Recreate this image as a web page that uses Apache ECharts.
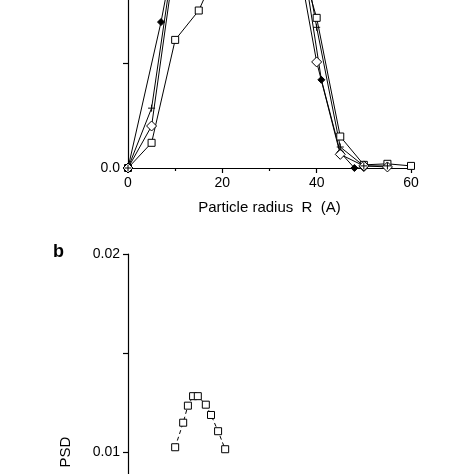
<!DOCTYPE html>
<html><head><meta charset="utf-8">
<script src="https://cdn.jsdelivr.net/npm/echarts@6/dist/echarts.min.js"></script>
<style>html,body{margin:0;background:#fff;overflow:hidden;height:474px}#chart{width:474px;height:819px;margin-top:-147px}</style>
</head><body><div id="chart"></div>
<script>
// panel a: particle size distributions (upper part of plot is cropped off)
const squaresA = [[0,0],[5,0.0024],[10,0.0122],[15,0.015],[20,0.02],[25,0.024],[30,0.025],[35,0.022],[40,0.0143],[45,0.003],[50,0.0003],[55,0.0004],[60,0.0002]];
const filledDiamA = [[0,0],[7,0.0139],[10,0.021],[20,0.027],[30,0.027],[37,0.02],[41,0.0084],[45,0.0015],[48,0],[50,0]];
const openDiamA = [[0,0],[5,0.004],[10,0.02],[20,0.027],[30,0.026],[36,0.02],[40,0.0101],[45,0.0013],[50,0.0002],[55,0.0001]];
const crossA = [[0,0],[5,0.0057],[10,0.021],[20,0.026],[30,0.026],[37,0.021],[40,0.0134],[45,0.002],[50,0.0002],[55,0.0002]];
// panel b
const squaresB = [[10.0,0.01024],[11.7,0.01148],[12.7,0.01234],[13.8,0.01282],[14.8,0.01282],[16.5,0.01239],[17.6,0.01187],[19.1,0.01105],[20.6,0.01014]];

const crossPath = 'path://M5 0 L5 10 M0 5 L10 5';
const ax = {color:'#000',fontFamily:'Liberation Sans, Arial',fontSize:14};
const lineS = {color:'#000',width:1.2};

function ser(data, symbol, fill, gi, dashed) {
  return {type:'line', data, xAxisIndex:gi, yAxisIndex:gi, symbol, symbolSize:7,
    lineStyle:{color:'#000',width:1,type:dashed?[4,3]:'solid'},
    itemStyle:{color:fill,borderColor:'#000',borderWidth:1}, animation:false, z:3};
}

const chart = echarts.init(document.getElementById('chart'));
chart.setOption({
  animation:false,
  grid:[{left:128,right:63,top:0,bottom:504},{left:128,right:63,top:401,bottom:0}],
  xAxis:[0,1].map(i => ({type:'value',gridIndex:i,min:0,max:60,interval:20,
    axisLine:{lineStyle:lineS},axisTick:{lineStyle:lineS,length:5},
    minorTick:{show:true,splitNumber:2,length:3,lineStyle:lineS},
    splitLine:{show:false},axisLabel:{...ax},
    name:i===0?'Particle radius  R  (A)':'',nameLocation:'middle',nameGap:32,
    nameTextStyle:{...ax,fontSize:15}})),
  yAxis:[
    {type:'value',gridIndex:0,min:0,max:0.03,interval:0.02,
     axisLine:{show:true,lineStyle:lineS},axisTick:{show:true,lineStyle:lineS,length:5},
     minorTick:{show:true,splitNumber:2,length:5,lineStyle:lineS},splitLine:{show:false},
     axisLabel:{...ax,formatter:v=>v===0?'0.0':''}},
    {type:'value',gridIndex:1,min:0,max:0.02,interval:0.01,
     axisLine:{show:true,lineStyle:lineS},axisTick:{show:true,lineStyle:lineS,length:5},
     minorTick:{show:true,splitNumber:2,length:5,lineStyle:lineS},splitLine:{show:false},
     axisLabel:{...ax,formatter:v=>v.toFixed(2)},
     name:'PSD',nameLocation:'middle',nameGap:55,nameTextStyle:{...ax,fontSize:15}}
  ],
  graphic:[{type:'text',left:53,top:390,style:{text:'b',font:'bold 18px Liberation Sans, Arial',fill:'#000'}}],
  series:[
    ser(squaresA,'rect','#fff',0),
    ser(filledDiamA,'diamond','#000',0),
    {...ser(openDiamA,'diamond','#fff',0),symbolSize:10},
    ser(crossA,crossPath,'#000',0),
    ser(squaresB,'rect','#fff',1,true)
  ]
});
</script></body></html>
